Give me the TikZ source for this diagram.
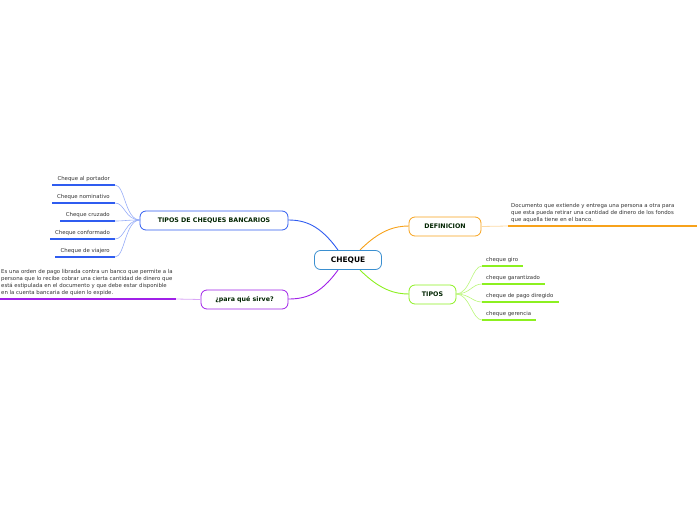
\documentclass[tikz,border=0pt]{standalone}
\usepackage{fontspec}
\setmainfont{DejaVu Sans}
\begin{document}
\begin{tikzpicture}[x=1pt,y=-1pt,
 box/.style={draw=#1,rounded corners=6pt,line width=0.8pt,fill=white,font=\bfseries\fontsize{6.3}{7}\selectfont,text=black!60!green!35!black,minimum height=19pt,inner xsep=6pt},
 sm/.style={font=\fontsize{5.4}{7}\selectfont,text=black!80,inner sep=0pt},
 ln/.style={draw=#1,line width=1.1pt}]
\definecolor{orng}{HTML}{F7A21B}
\definecolor{grn}{HTML}{8CF020}
\definecolor{blu}{HTML}{2F5CF0}
\definecolor{prp}{HTML}{A020E8}
\definecolor{cen}{HTML}{3A8FD0}
\useasboundingbox (0,0) rectangle (697,520);
\clip (0,0) rectangle (697,520);
\draw[orng,line width=0.9pt] (360,250) .. controls (380,230) and (395,226) .. (409,226);
\draw[grn,line width=0.9pt] (360,270) .. controls (380,290) and (395,294) .. (409,294);
\draw[blu,line width=0.9pt] (338,250) .. controls (320,225) and (305,220) .. (288,220);
\draw[prp,line width=0.9pt] (338,270) .. controls (320,295) and (305,299) .. (288,299);
\node[box=cen,minimum width=67pt,font=\bfseries\fontsize{7.5}{8}\selectfont,text=black] (ch) at (348,260) {CHEQUE};
\node[box=orng,minimum width=72pt] (def) at (445,226.5) {DEFINICION};
\node[box=grn,minimum width=47pt] (tip) at (432.5,294.5) {TIPOS};
\node[box=blu,minimum width=148pt] (tcb) at (214,220.5) {TIPOS DE CHEQUES BANCARIOS};
\node[box=prp,minimum width=87pt] (par) at (244.5,299.5) {¿para qué sirve?};
\draw[orng!40,line width=0.8pt] (def.east) -- (508,226);
\draw[ln=orng] (508,226) -- (697,226);
\node[sm,anchor=north west,align=left] (dt) at (511,203) {Documento que extiende y entrega una persona a otra para\\que esta pueda retirar una cantidad de dinero de los fondos\\que aquella tiene en el banco.};
\foreach \y/\e/\t in {266/523/cheque giro,284/545/cheque garantizado,302/559/cheque de pago diregido,320/536/cheque gerencia}{
 \draw[grn!60,line width=0.6pt] (456,294) .. controls (470,294) and (472,\y) .. (482,\y);
 \draw[ln=grn] (482,\y) -- (\e,\y);
 \node[sm,anchor=south west] at (486,\y-3) {\t};
}
\foreach \y/\s/\t in {185/52/Cheque al portador,203/52/Cheque nominativo,221/60/Cheque cruzado,239/50/Cheque conformado,257/55/Cheque de viajero}{
 \draw[blu!50,line width=0.6pt] (140,220) .. controls (125,220) and (125,\y) .. (115,\y);
 \draw[ln=blu] (\s,\y) -- (115,\y);
 \node[sm,anchor=south east] at (110,\y-3) {\t};
}
\draw[prp!40,line width=0.8pt] (par.west) -- (176,299);
\draw[ln=prp] (0,299) -- (176,299);
\node[sm,anchor=north west,align=left] (pt) at (1,269) {Es una orden de pago librada contra un banco que permite a la\\persona que lo recibe cobrar una cierta cantidad de dinero que\\está estipulada en el documento y que debe estar disponible\\en la cuenta bancaria de quien lo expide.};
\end{tikzpicture}
\end{document}
